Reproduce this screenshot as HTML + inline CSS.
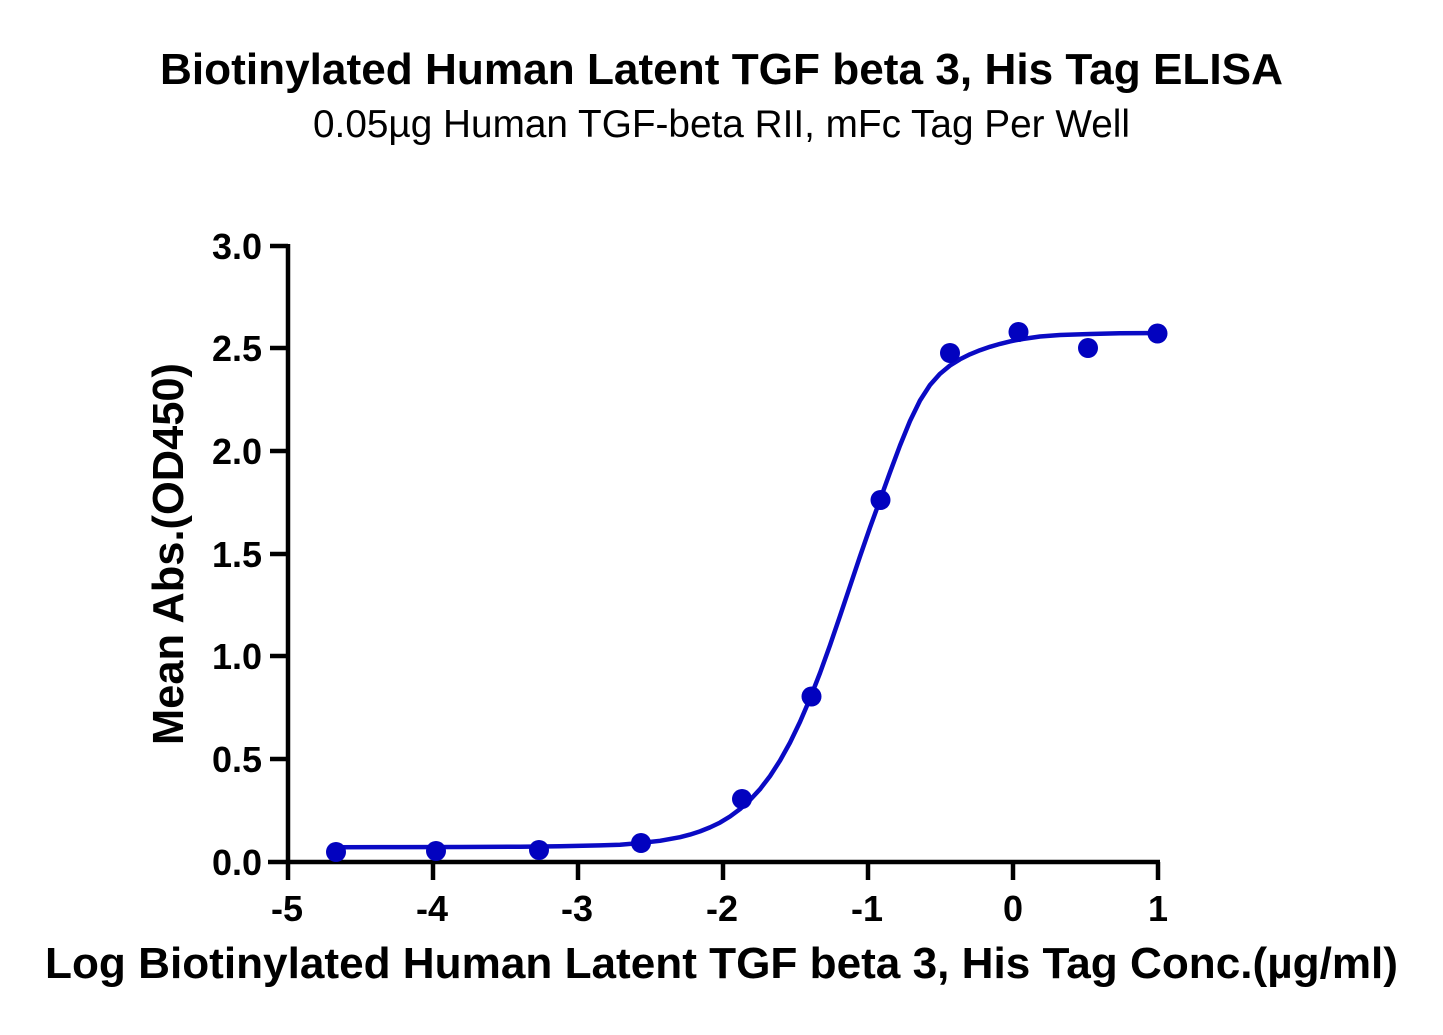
<!DOCTYPE html>
<html>
<head>
<meta charset="utf-8">
<style>
  html, body { margin: 0; padding: 0; background: #ffffff; }
  svg { display: block; }
  text { font-family: "Liberation Sans", Arial, sans-serif; fill: #000; }
</style>
</head>
<body>
<svg width="1443" height="1035" viewBox="0 0 1443 1035" xmlns="http://www.w3.org/2000/svg">
  <rect x="0" y="0" width="1443" height="1035" fill="#ffffff"/>

  <!-- Titles -->
  <text x="721.5" y="84" text-anchor="middle" font-size="43.5" font-weight="bold" textLength="1123" lengthAdjust="spacingAndGlyphs">Biotinylated Human Latent TGF beta 3, His Tag ELISA</text>
  <text x="721.5" y="137" text-anchor="middle" font-size="38.5" textLength="817" lengthAdjust="spacingAndGlyphs">0.05µg Human TGF-beta RII, mFc Tag Per Well</text>

  <!-- Axes -->
  <g stroke="#000" stroke-width="4.5" fill="none" stroke-linecap="butt">
    <line x1="288" y1="244" x2="288" y2="880"/>
    <line x1="268" y1="862" x2="1160" y2="862"/>
    <!-- y ticks -->
    <line x1="270" y1="246" x2="288" y2="246"/>
    <line x1="270" y1="348" x2="288" y2="348"/>
    <line x1="270" y1="451" x2="288" y2="451"/>
    <line x1="270" y1="554" x2="288" y2="554"/>
    <line x1="270" y1="656" x2="288" y2="656"/>
    <line x1="270" y1="759" x2="288" y2="759"/>
    <!-- x ticks -->
    <line x1="433" y1="862" x2="433" y2="880"/>
    <line x1="578" y1="862" x2="578" y2="880"/>
    <line x1="723" y1="862" x2="723" y2="880"/>
    <line x1="868" y1="862" x2="868" y2="880"/>
    <line x1="1013" y1="862" x2="1013" y2="880"/>
    <line x1="1158" y1="862" x2="1158" y2="880"/>
  </g>

  <!-- Y tick labels -->
  <g font-size="36" font-weight="bold" text-anchor="end">
    <text x="262" y="259">3.0</text>
    <text x="262" y="361">2.5</text>
    <text x="262" y="464">2.0</text>
    <text x="262" y="567">1.5</text>
    <text x="262" y="669">1.0</text>
    <text x="262" y="772">0.5</text>
    <text x="262" y="875">0.0</text>
  </g>

  <!-- X tick labels -->
  <g font-size="36" font-weight="bold" text-anchor="middle">
    <text x="287" y="921">-5</text>
    <text x="432" y="921">-4</text>
    <text x="577" y="921">-3</text>
    <text x="722" y="921">-2</text>
    <text x="867" y="921">-1</text>
    <text x="1013" y="921">0</text>
    <text x="1158" y="921">1</text>
  </g>

  <!-- Axis titles -->
  <text x="721.5" y="978" text-anchor="middle" font-size="44" font-weight="bold" textLength="1353" lengthAdjust="spacingAndGlyphs">Log Biotinylated Human Latent TGF beta 3, His Tag Conc.(µg/ml)</text>
  <text x="183" y="554" text-anchor="middle" font-size="43.5" font-weight="bold" textLength="382" lengthAdjust="spacingAndGlyphs" transform="rotate(-90 183 554)">Mean Abs.(OD450)</text>

  <!-- Fitted curve -->
  <polyline fill="none" stroke="#0a0ac4" stroke-width="4.5" stroke-linejoin="round" stroke-linecap="round"
    points="336,847.2 400,847.1 460,847.0 520,846.7 560,846.2 600,845.4 620,844.7 640,843.0 660,840.8 680,837.2 690,834.6 700,831.4 710,827.4 720,822.6 730,816.5 740,809.1 750,800.0 760,789.2 770,776.1 780,760.6 790,742.6 800,721.9 810,698.6 820,673 830,645.2 840,616 850,586.2 860,556.4 870,527.5 880,500 890,472.3 900,445.5 910,421 920,400.5 930,385 940,373.8 950,365.5 960,359.3 970,354.3 980,350.2 990,346.8 1000,343.9 1010,341.4 1020,339.4 1040,336.5 1060,335 1090,334 1120,333.3 1158,333"/>

  <!-- Data points -->
  <g fill="#0202bf">
    <circle cx="336" cy="852" r="10"/>
    <circle cx="436" cy="851" r="10"/>
    <circle cx="539" cy="850" r="10"/>
    <circle cx="641" cy="843" r="10"/>
    <circle cx="742" cy="799" r="10"/>
    <circle cx="811.5" cy="696.5" r="10"/>
    <circle cx="880.5" cy="500" r="10"/>
    <circle cx="950" cy="353" r="10"/>
    <circle cx="1018.5" cy="332" r="10"/>
    <circle cx="1088" cy="348" r="10"/>
    <circle cx="1157.5" cy="333.5" r="10"/>
  </g>
</svg>
</body>
</html>
